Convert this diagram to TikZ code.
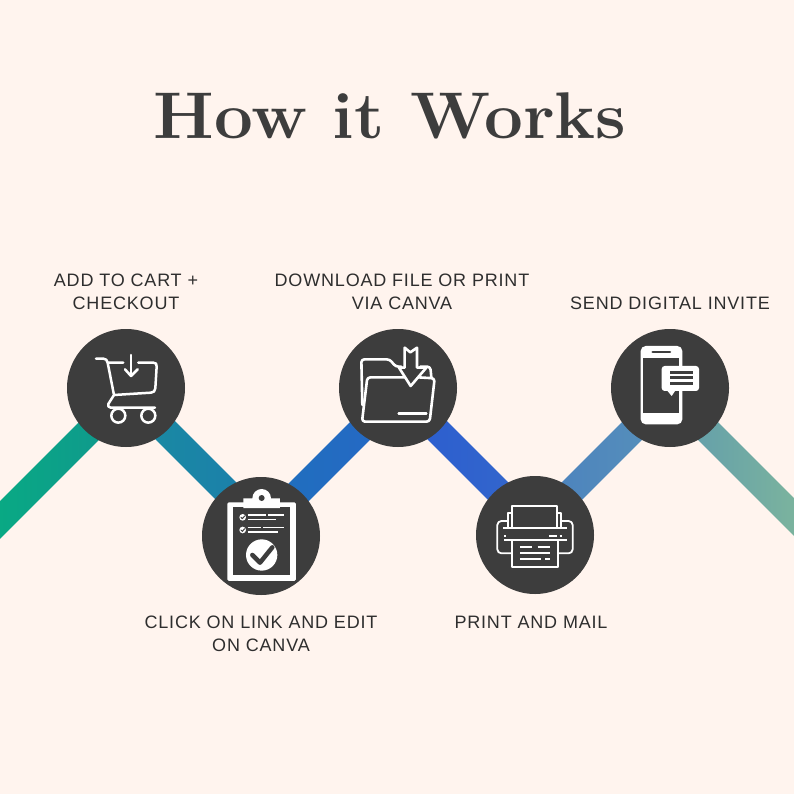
\documentclass[tikz,border=0pt]{standalone}
\usepackage{fontspec}
\usetikzlibrary{positioning,calc,backgrounds}
\newfontfamily\capfont[LetterSpace=4.5]{Liberation Sans}
\definecolor{paper}{HTML}{FFF4EE}
\definecolor{ink}{HTML}{3D3D3D}
\definecolor{capink}{HTML}{2E2E2E}
\definecolor{ga}{HTML}{06B080}
\definecolor{gb}{HTML}{11958F}
\definecolor{gc}{HTML}{1A8CA0}
\definecolor{gd}{HTML}{1B7DAD}
\definecolor{ge}{HTML}{1E70BC}
\definecolor{gf}{HTML}{2767C6}
\definecolor{gg}{HTML}{2A5CD0}
\definecolor{gh}{HTML}{3568CB}
\definecolor{gi}{HTML}{4A80BE}
\definecolor{gj}{HTML}{5892BA}
\definecolor{gk}{HTML}{5E9AAE}
\definecolor{gl}{HTML}{85BC98}
\tikzset{
  hub/.style={circle,fill=ink,minimum size=118pt,inner sep=0pt},
  caption/.style={font=\capfont\fontsize{18pt}{22.5pt}\selectfont,text=capink,align=center,inner sep=0pt},
  icon/.style={x=.3333pt,y=-.3333pt,line width=2.5pt,line cap=round,line join=round},
}
\newcommand{\band}[4]{\shade[left color=#3,right color=#4]
  ($(#1)!13.3pt!90:(#2)$) -- ($(#2)!13.3pt!-90:(#1)$) -- ($(#2)!13.3pt!90:(#1)$) -- ($(#1)!13.3pt!-90:(#2)$) -- cycle;}

\begin{document}
\begin{tikzpicture}[x=1pt,y=-1pt]
  \useasboundingbox (0,0) rectangle (794,794);

  \node[text=ink,inner sep=0pt,xscale=1.045,font=\bfseries\fontsize{66pt}{70pt}\selectfont] (title) at (390,116) {How it Works};

  \node[hub] (hubcart) at (126,388) {};
  \node[hub] (hubclip) at (261,536) {};
  \node[hub] (hubfolder) at (398,388) {};
  \node[hub] (hubprint) at (535,535) {};
  \node[hub] (hubphone) at (670,388) {};
  \coordinate (edgel) at (-40,560);
  \coordinate (edger) at (834,557);
  \coordinate (bendcart) at (127.5,392.5);
  \coordinate (bendclip) at (263,528);
  \coordinate (bendfolder) at (399,392);
  \coordinate (bendprint) at (535,528);
  \coordinate (bendphone) at (670,393);

  \begin{scope}[on background layer]
    \fill[paper] (0,0) rectangle (794,794);
    \band{edgel}{bendcart}{ga}{gb}
    \band{bendcart}{bendclip}{gc}{gd}
    \band{bendclip}{bendfolder}{ge}{gf}
    \band{bendfolder}{bendprint}{gg}{gh}
    \band{bendprint}{bendphone}{gi}{gj}
    \band{bendphone}{edger}{gk}{gl}
  \end{scope}

  \node[caption,above=19pt of hubcart] (capcart) {ADD TO CART +\\CHECKOUT};
  \node[caption,below=21pt of hubclip] (capclip) {CLICK ON LINK AND EDIT\\ON CANVA};
  \node[caption,above=19pt of hubfolder,xshift=4pt] (capfolder) {DOWNLOAD FILE OR PRINT\\VIA CANVA};
  \node[caption,below=22pt of hubprint,xshift=-4pt] (capprint) {PRINT AND MAIL};
  \node[caption,above=19pt of hubphone] (capphone) {SEND DIGITAL INVITE};

  % cart
  \begin{scope}[shift={(60,320)},icon,white]
    \draw (108,116) -- (130,116) .. controls (138,116) and (141,120) .. (143,128) -- (190,128);
    \draw (235,128) -- (280,128) .. controls (288,128) and (291,132) .. (290,140) -- (286,205) .. controls (285,214) and (281,217) .. (273,218) -- (162,225);
    \draw (143,128) -- (162,225) -- (145,252) .. controls (143,258) and (146,263) .. (152,263) -- (285,263);
    \draw (175,287) circle (21);
    \draw (265,287) circle (21);
    \draw (213,105) -- (213,167);
    \draw (195,148) -- (213,168) -- (233,148);
  \end{scope}

  % clipboard
  \begin{scope}[shift={(195,470)},icon]
    \fill[white,rounded corners=1.5pt] (97,97) rectangle (303,333);
    \fill[ink] (115,112) rectangle (285,315);
    \fill[white] (145,114) -- (145,85) -- (172,85) arc (180:360:28) -- (255,85) -- (255,114) -- cycle;
    \fill[ink] (200,84) circle (9);
    \fill[white] (143,142) circle (10);
    \fill[white] (143,180) circle (10);
    \draw[ink,line width=1pt] (138,142) -- (142,146) -- (149,138);
    \draw[ink,line width=1pt] (138,180) -- (142,184) -- (149,176);
    \draw[white,line width=1.6pt,line cap=butt] (158,135) -- (213,135) (220,135) -- (267,135) (158,148) -- (243,148)
      (158,173) -- (197,173) (205,173) -- (268,173) (158,186) -- (250,186);
    \fill[white] (200,255) circle (47);
    \draw[ink,line width=4.5pt] (172,255) -- (195,278) -- (232,232);
  \end{scope}

  % folder
  \begin{scope}[shift={(333,325)},icon,white,line width=2.6pt]
    \draw[rounded corners=3pt] (88,240) -- (85,103) -- (170,103) -- (188,125) -- (205,125);
    \draw[rounded corners=3pt] (262,125) -- (292,125) -- (295,157);
    \draw[rounded corners=3pt] (215,157) -- (103,157) -- (87,290) -- (290,290) -- (305,160) -- (255,157);
    \draw (197,265) -- (280,265);
    \draw[fill=ink] (215,68) -- (232,82) -- (252,68) -- (252,128) -- (280,128) -- (233,183) -- (198,128) -- (215,128) -- cycle;
  \end{scope}

  % printer
  \begin{scope}[shift={(470,470)},icon,white,line width=1.8pt,line cap=butt]
    \draw[rounded corners=4pt] (115,153) -- (82,153) -- (82,250) -- (127,250);
    \draw[rounded corners=4pt] (275,153) -- (308,153) -- (308,250) -- (265,250);
    \draw (127,175) -- (127,108) -- (262,108) -- (262,175);
    \draw (127,130) -- (115,130) -- (115,175);
    \draw (262,130) -- (273,130) -- (273,175);
    \draw (100,175) -- (290,175);
    \draw (102,210) -- (290,210);
    \draw[fill=ink] (127,210) rectangle (265,290);
    \draw (238,197) -- (260,197);
    \draw (102,197) -- (108,197) (269,197) -- (275,197);
    \draw (150,232) -- (187,232) (203,232) -- (240,232) (150,249) -- (240,249)
      (150,268) -- (212,268) (226,268) -- (240,268);
  \end{scope}

  % phone
  \begin{scope}[shift={(605,325)},icon]
    \fill[white,rounded corners=5pt] (107,63) rectangle (232,298);
    \fill[ink] (115,100) rectangle (222,265);
    \draw[ink] (143,81) -- (195,81);
    \fill[white,rounded corners=3pt] (170,123) rectangle (282,198);
    \fill[white] (185,195) -- (200,213) -- (212,195) -- cycle;
    \draw[ink,line cap=butt] (195,142) -- (265,142) (195,158) -- (265,158) (195,175) -- (265,175);
  \end{scope}
\end{tikzpicture}
\end{document}
